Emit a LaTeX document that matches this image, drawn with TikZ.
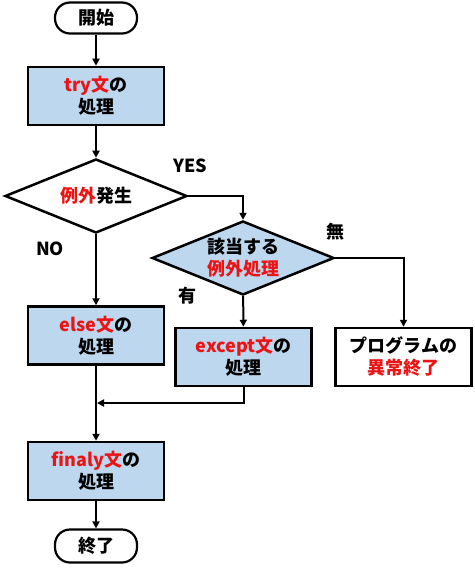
\documentclass[tikz,border=0pt]{standalone}
\usepackage{fontspec}
\setmainfont{Noto Sans CJK JP}
\usetikzlibrary{shapes.geometric,arrows.meta}
\definecolor{boxblue}{RGB}{189,215,238}
\definecolor{hlred}{RGB}{235,20,20}
\newcommand{\hl}[1]{\textcolor{hlred}{#1}}
\tikzset{
  terminal/.style={draw,line width=2.2pt,rounded corners=15pt,minimum width=82pt,minimum height=31pt,inner sep=0pt},
  procbox/.style={draw,line width=2.5pt,minimum width=136pt,minimum height=58pt,inner sep=0pt,align=center},
  decision/.style={draw,diamond,line width=2.5pt,minimum width=182pt,minimum height=74pt,inner sep=0pt,aspect=2.45,align=center},
  arr/.style={line width=2pt,-{Triangle[length=7pt,width=7pt]}},
  lbl/.style={inner sep=0pt}
}
\begin{document}
\begin{tikzpicture}[x=1pt,y=-1pt,font=\fontsize{18pt}{22pt}\selectfont\bfseries]
\useasboundingbox (0,0) rectangle (474,569);

% start and end
\node[terminal,fill=white] (start) at (96,18) {開始};
\node[terminal,fill=white,minimum height=33pt] (stop) at (96,546) {終了};

% processing boxes
\node[procbox,fill=boxblue] (try) at (96,96) {\hl{try文}の\\処理};
\node[procbox,fill=boxblue] (else) at (96,335.5) {\hl{else文}の\\処理};
\node[procbox,fill=boxblue] (except) at (243.5,357) {\hl{except文}の\\処理};
\node[procbox,fill=white] (abort) at (403.5,357) {プログラムの\\\hl{異常終了}};
\node[procbox,fill=boxblue] (final) at (96,471) {\hl{finaly文}の\\処理};

% decisions
\node[decision,fill=white] (raised) at (96,196) {\hl{例外}発生};
\node[decision,fill=boxblue] (match) at (243,258) {該当する\\\hl{例外処理}};

% branch labels
\node[lbl] (yes) at (190,166) {YES};
\node[lbl] (no) at (50,249) {NO};
\node[lbl] (none) at (335,232) {無};
\node[lbl] (found) at (187,296) {有};

% join point
\coordinate (join) at (96,403);

% connectors
\draw[arr] (start) -- (try);
\draw[arr] (try) -- (raised);
\draw[arr] (raised.east) -| (match.north);
\draw[arr] (match.east) -| (abort.north);
\draw[arr] (match) -- (except);
\draw[arr] (raised) -- (else);
\draw[line width=2pt] (else) -- (join);
\draw[arr] (except.south) |- ([xshift=1pt]join);
\draw[arr] (join) -- (final);
\draw[arr] (final) -- (stop);

\end{tikzpicture}
\end{document}
